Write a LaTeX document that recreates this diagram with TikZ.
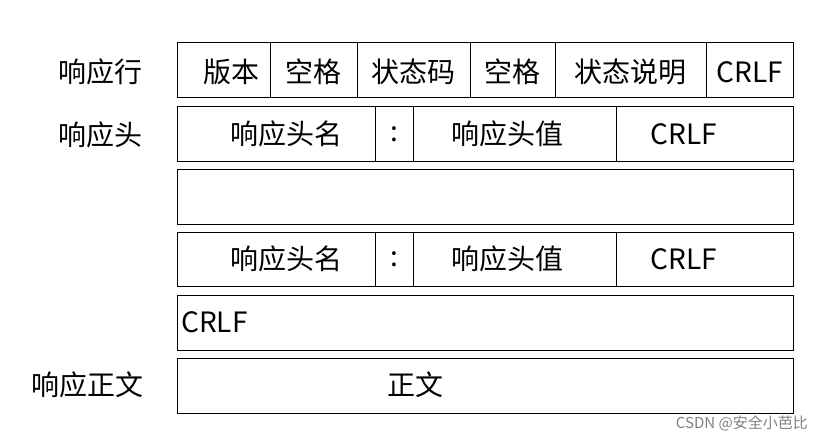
\documentclass[tikz,border=0pt]{standalone}
\usepackage{fontspec}
\setmainfont{Noto Sans CJK SC}
\usetikzlibrary{positioning}
\tikzset{
  cell/.style={draw=black, line width=1pt, inner sep=0pt},
  txt/.style={font=\fontsize{28}{32}\selectfont, inner sep=0pt},
  wmark/.style={font=\fontsize{15}{18}\selectfont, text=gray, inner sep=0pt}
}
\begin{document}
\begin{tikzpicture}[x=1pt,y=-1pt]
\useasboundingbox (0,0) rectangle (824,441);
% response line
\draw[cell] (177,43) rectangle (793,98);
\foreach \x in {270,357,470,555,706} \draw[cell] (\x,43) -- (\x,98);
\node[txt] (ver) at (231,72) {版本};
\node[txt] (sp1) at (313,72) {空格};
\node[txt] (code) at (413,72) {状态码};
\node[txt] (sp2) at (512,72) {空格};
\node[txt] (desc) at (630,72) {状态说明};
\node[txt] (crlf1) at (750,72) {CRLF};
% headers
\foreach \y/\n in {107/a,232/b} {
  \draw[cell] (177,\y) rectangle (793,\y+54);
  \foreach \x in {375,413,616} \draw[cell] (\x,\y) -- (\x,\y+54);
  \node[txt] (name\n) at (286,\y+27) {响应头名};
  \node[txt] (colon\n) at (394,\y+27) {:};
  \node[txt] (val\n) at (507,\y+27) {响应头值};
  \node[txt] (crlf\n) at (684,\y+27) {CRLF};
}
\draw[cell] (177,169) rectangle (793,224);
\draw[cell] (177,295) rectangle (793,350);
\node[txt, anchor=west] (crlfend) at (181,322) {CRLF};
\draw[cell] (177,358) rectangle (793,413);
\node[txt] (body) at (415,385) {正文};
% left labels
\node[txt] (lline) at (100,72) {响应行};
\node[txt] (lhead) at (100,135) {响应头};
\node[txt] (lbody) at (87,385) {响应正文};
\node[wmark, anchor=east] (wm) at (808,423) {CSDN @安全小芭比};
\end{tikzpicture}
\end{document}
